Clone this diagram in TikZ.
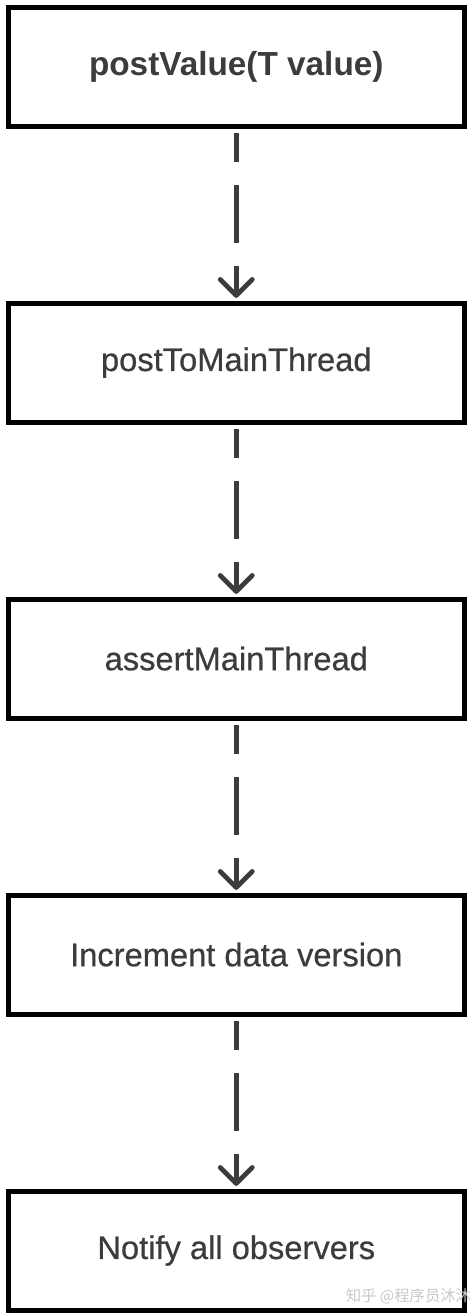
\documentclass[tikz,border=0pt]{standalone}
\usepackage{fontspec}
\setmainfont{Liberation Sans}
\newfontfamily\medfont[FakeBold=0.6]{Liberation Sans}
\newfontfamily\cjk{Noto Sans CJK SC}
\usetikzlibrary{positioning,arrows.meta}
\definecolor{inkgray}{HTML}{3C3C3C}
\definecolor{markgray}{HTML}{C8C8C8}
\tikzset{
  stepbox/.style={draw=black, line width=3.75pt, minimum width=341.6pt,
    minimum height=89.25pt, inner sep=0pt, text=inkgray,
    font=\medfont\fontsize{24.5}{28}\selectfont},
  flow/.style={draw=inkgray, line width=3.6pt,
    dash pattern=on 43.5pt off 17.25pt, dash phase=21.75pt,
    shorten <=3pt, shorten >=2pt,
    -{Straight Barb[length=12pt,width=24pt,round]}},
}
\begin{document}
\begin{tikzpicture}[node distance=129pt]
  \useasboundingbox (0,0) rectangle (354.75pt,-987pt);
  % steps
  \node[stepbox, font=\fontsize{25}{29}\selectfont\bfseries] (post) at (177.2pt,-49.9pt) {postValue(T value)};
  \node[stepbox, below=of post] (main) {postToMainThread};
  \node[stepbox, below=of main] (assert) {assertMainThread};
  \node[stepbox, below=of assert] (version) {Increment data version};
  \node[stepbox, below=of version] (notify) {Notify all observers};
  % arrows
  \draw[flow] (post) -- (main);
  \draw[flow] (main) -- (assert);
  \draw[flow] (assert) -- (version);
  \draw[flow] (version) -- (notify);
  % watermark
  \node[anchor=east, text=markgray, font=\cjk\fontsize{11.5}{13}\selectfont, inner sep=0pt] (mark) at (353.5pt,-972pt) {知乎 @程序员沐沐};
\end{tikzpicture}
\end{document}
